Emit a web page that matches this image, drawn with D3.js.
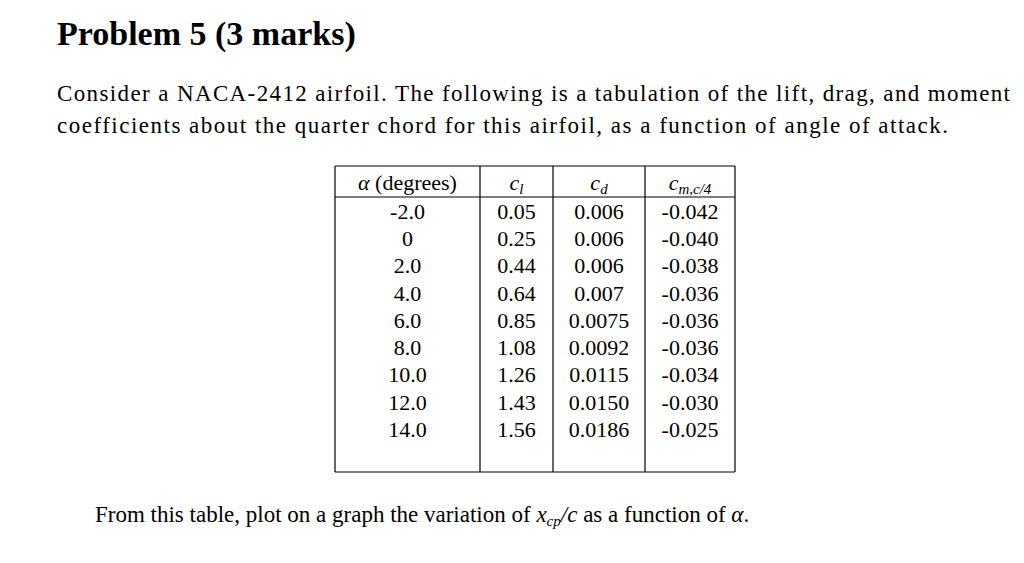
<!DOCTYPE html><html><head><meta charset="utf-8">
<script src="https://cdn.jsdelivr.net/npm/d3@7"></script>
<style>body{margin:0;background:#fff}</style></head><body>
<svg id="c" width="1024" height="563"></svg>
<script>
const alpha=["-2.0","0","2.0","4.0","6.0","8.0","10.0","12.0","14.0"];
const cl=["0.05","0.25","0.44","0.64","0.85","1.08","1.26","1.43","1.56"];
const cd=["0.006","0.006","0.006","0.007","0.0075","0.0092","0.0115","0.0150","0.0186"];
const cm=["-0.042","-0.040","-0.038","-0.036","-0.036","-0.036","-0.034","-0.030","-0.025"];
const svg=d3.select("#c");
const F="'Liberation Serif','DejaVu Serif',serif";
svg.append("text").attr("x",57).attr("y",45).attr("font-family",F).attr("font-weight","bold").attr("font-size",34).text("Problem 5 (3 marks)");
const p=["Consider a NACA-2412 airfoil.  The following is a tabulation of the lift, drag, and moment","coefficients about the quarter chord for this airfoil, as a function of angle of attack."];
p.forEach((t,i)=>svg.append("text").attr("x",57).attr("y",101+i*32).attr("font-family",F).attr("font-size",23).attr("textLength",i?891:953).text(t));
const cols=[335,480,553,645,735];
const y=d3.scaleLinear().domain([0,9]).range([211,456]);
const tTop=166,tBot=472,hLine=197;
const g=svg.append("g").attr("stroke","#000").attr("stroke-width",1.2);
cols.forEach(x=>g.append("line").attr("x1",x).attr("x2",x).attr("y1",tTop).attr("y2",tBot));
[tTop,hLine,tBot].forEach(v=>g.append("line").attr("x1",335).attr("x2",735).attr("y1",v).attr("y2",v));
const cx=i=>(cols[i]+cols[i+1])/2;
const T=(x,yy)=>svg.append("text").attr("x",x).attr("y",yy).attr("text-anchor","middle").attr("font-family",F).attr("font-size",22);
const h1=T(cx(0),190);h1.append("tspan").attr("font-style","italic").text("α");h1.append("tspan").text(" (degrees)");
const h2=T(cx(1),190);h2.append("tspan").attr("font-style","italic").text("c");h2.append("tspan").attr("font-style","italic").attr("font-size",15).attr("dy",4).text("l");
const h3=T(cx(2),190);h3.append("tspan").attr("font-style","italic").text("c");h3.append("tspan").attr("font-style","italic").attr("font-size",15).attr("dy",4).text("d");
const h4=T(cx(3),190);h4.append("tspan").attr("font-style","italic").text("c");h4.append("tspan").attr("font-style","italic").attr("font-size",15).attr("dy",4).text("m,c/4");
[alpha,cl,cd,cm].forEach((arr,j)=>arr.forEach((v,i)=>T(cx(j),y(i)+8).text(v)));
const f=svg.append("text").attr("x",95).attr("y",522).attr("font-family",F).attr("font-size",23);
f.append("tspan").text("From this table, plot on a graph the variation of ");
f.append("tspan").attr("font-style","italic").text("x");
f.append("tspan").attr("font-style","italic").attr("font-size",15).attr("dy",4).text("cp");
f.append("tspan").attr("dy",-4).attr("font-style","italic").text("/c");
f.append("tspan").text(" as a function of ");
f.append("tspan").attr("font-style","italic").text("α");
f.append("tspan").text(".");
</script></body></html>
